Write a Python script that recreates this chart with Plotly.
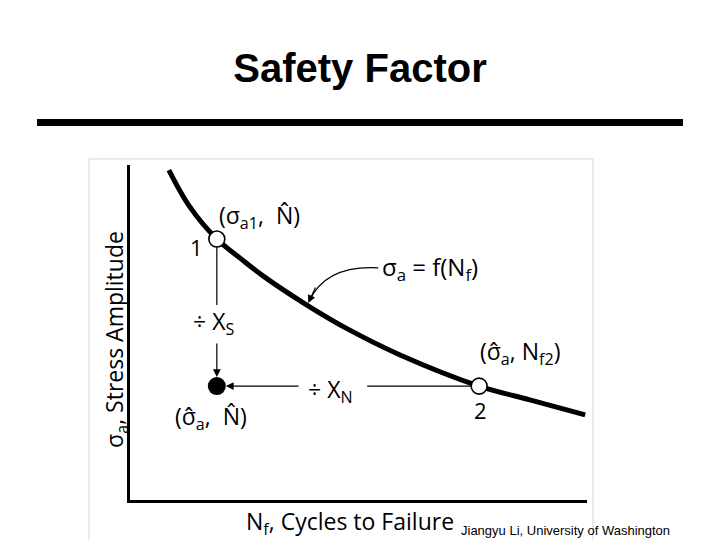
import plotly.graph_objects as go

# S-N curve (arbitrary units: x = log life, y = stress amplitude)
curve_x = [0.85, 1.31, 1.90, 2.41, 2.91, 3.87, 4.81, 5.91, 7.64, 8.75, 9.96]
curve_y = [9.85, 8.75, 7.79, 7.22, 6.69, 5.82, 5.07, 4.33, 3.40, 2.99, 2.54]

# key points
p1 = (1.90, 7.79)      # point 1 on the curve
p2 = (7.64, 3.40)      # point 2 on the curve
safe = (p1[0], p2[1])  # allowed (design) point

FONT = "Open Sans"

fig = go.Figure()

# the curve
fig.add_trace(go.Scatter(x=curve_x, y=curve_y, mode="lines",
                         line=dict(color="black", width=5, shape="spline", smoothing=1.0),
                         hoverinfo="skip"))

# vertical connector (upper part, from point 1)
fig.add_trace(go.Scatter(x=[p1[0], p1[0]], y=[p1[1], 5.82], mode="lines",
                         line=dict(color="black", width=1.2), hoverinfo="skip"))
# horizontal connector (right part, to point 2)
fig.add_trace(go.Scatter(x=[5.19, p2[0]], y=[p2[1], p2[1]], mode="lines",
                         line=dict(color="black", width=1.2), hoverinfo="skip"))

# open circles on the curve
fig.add_trace(go.Scatter(x=[p1[0], p2[0]], y=[p1[1], p2[1]], mode="markers",
                         marker=dict(size=16, color="white",
                                     line=dict(color="black", width=1.6)),
                         hoverinfo="skip"))
# filled safe point
fig.add_trace(go.Scatter(x=[safe[0]], y=[safe[1]], mode="markers",
                         marker=dict(size=18, color="black"), hoverinfo="skip"))

ann = []
# arrows into the safe point
ann.append(dict(x=safe[0], y=safe[1], ax=p1[0], ay=4.72, axref="x", ayref="y",
                xref="x", yref="y", text="", showarrow=True, arrowhead=2,
                arrowsize=1.3, arrowwidth=1.2, arrowcolor="black", standoff=9))
ann.append(dict(x=safe[0], y=safe[1], ax=3.72, ay=p2[1], axref="x", ayref="y",
                xref="x", yref="y", text="", showarrow=True, arrowhead=2,
                arrowsize=1.3, arrowwidth=1.2, arrowcolor="black", standoff=9))
# curved pointer arrowhead
ann.append(dict(x=3.90, y=5.88, ax=8, ay=-17, xref="x", yref="y", text="",
                showarrow=True, arrowhead=2, arrowsize=1.3, arrowwidth=1.2,
                arrowcolor="black"))

def txt(x, y, s, size=23, ref="x", family=FONT, **kw):
    d = dict(x=x, y=y, text=s, showarrow=False,
             xref=("x" if ref == "x" else "paper"),
             yref=("y" if ref == "x" else "paper"),
             xanchor="center", yanchor="middle",
             font=dict(family=family, size=size, color="black"))
    d.update(kw)
    ann.append(d)

txt(2.84, 8.45, "(σ<sub>a1</sub>,  N\u0302)")
txt(1.45, 7.55, "1", size=22)
txt(1.82, 5.31, "÷ X<sub>S</sub>")
txt(1.77, 2.45, "(σ\u0302<sub>a</sub>,  N\u0302)")
txt(4.38, 3.28, "÷ X<sub>N</sub>")
txt(7.66, 2.69, "2", size=22)
txt(8.53, 4.39, "(σ\u0302<sub>a</sub>, N<sub>f2</sub>)")
txt(6.56, 6.93, "σ<sub>a</sub> = f(N<sub>f</sub>)", size=24)
# axis titles (paper refs so they are never hidden)
txt(-0.0306, 0.478, "σ<sub>a</sub>, Stress Amplitude", size=23, ref="paper",
    textangle=-90)
txt(0.481, -0.0657, "N<sub>f</sub>, Cycles to Failure", size=23, ref="paper")
# credit
txt(0.954, -0.0896, "Jiangyu Li, University of Washington", size=13, ref="paper",
    family="Liberation Sans")

fig.update_layout(annotations=ann)

shapes = [
    # light frame of the embedded figure
    dict(type="rect", xref="paper", yref="paper", x0=-0.0897, x1=1.013,
         y0=-0.3, y1=1.018, line=dict(color="#c9dadf", width=1),
         fillcolor="rgba(0,0,0,0)", layer="below"),
    # thick rule under the title
    dict(type="line", xref="paper", yref="paper", x0=-0.2035, x1=1.210,
         y0=1.127, y1=1.127, line=dict(color="black", width=7)),
    # curved pointer from the label to the curve
    dict(type="path", xref="x", yref="y",
         path="M 5.43 6.93 Q 4.27 7.01 3.93 5.94",
         line=dict(color="black", width=1.2)),
]
fig.update_layout(shapes=shapes)

fig.update_layout(
    width=720, height=540,
    margin=dict(l=122, r=141, t=157, b=48),
    paper_bgcolor="white", plot_bgcolor="white",
    showlegend=False,
    title=dict(text="<b>Safety Factor</b>", x=(360 - 8) / 720, xanchor="center",
               y=1 - 60 / 540, yanchor="middle", yref="container",
               font=dict(family="Liberation Sans", size=40, color="black")),
    xaxis=dict(range=[0, 10], showgrid=False, zeroline=False, showticklabels=False,
               ticks="", showline=True, linecolor="black", linewidth=3),
    yaxis=dict(range=[0, 10], showgrid=False, zeroline=False, showticklabels=False,
               ticks="", showline=True, linecolor="black", linewidth=3),
)

fig.write_html("out.html")
